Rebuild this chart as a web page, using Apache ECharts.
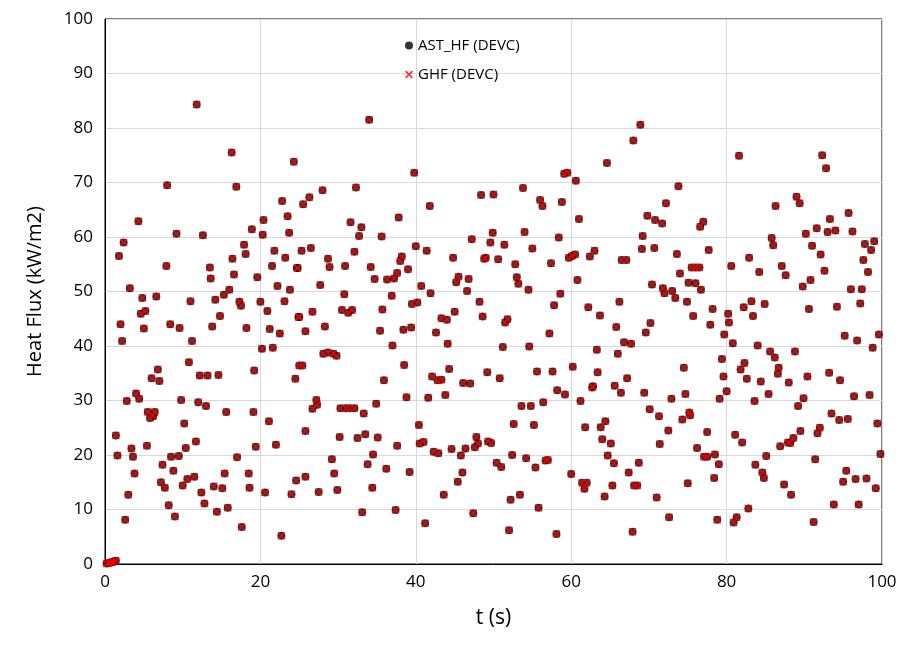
<!DOCTYPE html>
<html>
<head>
<meta charset="utf-8">
<script src="https://cdn.jsdelivr.net/npm/echarts@6/dist/echarts.min.js"></script>
<style>html,body{margin:0;padding:0;background:#fff}#main{width:910px;height:658px}</style>
</head>
<body>
<div id="main"></div>
<script>
// 坐标轴刻度
var xTicks = [0, 20, 40, 60, 80, 100];
var yTicks = [0, 10, 20, 30, 40, 50, 60, 70, 80, 90, 100];

// 图上读出的点 [t, heat flux]
var pointsA = [
    [0.2,0.1],[0.5,0.2],[0.8,0.3],[1.1,0.4],[1.4,0.6],
    [11.8,84.3],[16.3,75.5],[24.3,73.8],[8.0,69.5],[16.9,69.2],[22.8,66.6],[4.3,62.9],[23.5,63.8],[20.4,63.1],[18.9,61.4],
    [9.2,60.6],[12.6,60.3],[20.3,60.4],[23.7,60.8],[2.4,59.0],[17.9,58.6],[1.8,56.5],[21.8,57.5],[18.1,56.9],[16.4,56.0],
    [23.2,56.2],[7.9,54.7],[13.5,54.4],[21.5,54.7],[24.8,54.3],[13.6,52.4],[16.6,53.1],[19.6,52.6],[3.2,50.6],[22.2,51.0],
    [23.8,50.3],[4.8,48.8],[6.6,49.1],[16.0,50.3],[15.3,49.4],[11.0,48.2],[14.2,48.5],[17.3,48.1],[17.5,47.4],[20.0,48.1],
    [23.1,48.2],[5.2,46.4],[4.6,45.9],[20.9,46.4],[14.8,45.5],[25.0,45.3],[2.0,44.0],[5.0,43.2],[8.4,44.0],[9.6,43.3],
    [13.8,43.6],[18.2,43.3],[21.2,43.1],[22.5,42.3],[2.2,40.9],[11.2,40.9],[20.2,39.5],[21.6,39.7],[10.8,37.0],[6.8,35.7],
    [6.0,34.1],[7.0,33.6],[12.2,34.6],[13.2,34.6],[14.6,34.7],[19.2,35.5],[25.0,36.4],[24.5,34.0],[4.0,31.3],[2.8,29.9],
    [4.4,30.3],[9.8,30.1],[12.0,29.7],[13.0,29.0],[5.5,27.9],[6.4,27.9],[5.8,26.8],[6.2,27.1],[15.6,27.9],[19.1,27.9],
    [21.1,26.2],[10.2,25.8],[1.4,23.6],[5.4,21.7],[3.4,21.2],[11.7,22.5],[10.4,21.3],[19.4,21.5],[22.0,21.9],[1.6,19.9],
    [3.6,19.7],[8.5,19.7],[9.5,19.8],[17.0,19.6],[7.4,18.2],[8.8,17.1],[3.8,16.6],[15.4,16.6],[18.5,16.6],[24.6,15.3],
    [7.2,15.0],[7.7,14.0],[10.6,15.6],[11.5,16.0],[10.0,14.4],[14.0,14.2],[15.1,13.9],[18.6,14.0],[12.4,13.1],[20.6,13.1],
    [24.0,12.8],[3.0,12.7],[8.2,10.8],[12.8,11.1],[15.8,10.3],[14.4,9.6],[9.0,8.7],[2.6,8.1],[17.6,6.8],[22.7,5.2],
    [34.0,81.5],[39.8,71.8],[48.4,67.7],[50.0,67.8],[32.3,69.1],[28.0,68.6],[26.3,67.3],[25.5,66.0],[41.8,65.7],[37.8,63.6],
    [31.6,62.7],[33.0,61.8],[32.7,60.2],[35.6,60.1],[49.9,60.8],[47.2,59.6],[49.6,59.0],[25.3,57.5],[26.5,58.0],[40.0,58.3],
    [41.4,57.5],[32.1,57.3],[28.7,56.0],[38.2,56.4],[38.0,55.6],[44.8,56.2],[48.8,56.0],[49.0,56.2],[24.7,54.3],[28.9,54.5],
    [30.9,54.7],[34.2,54.5],[39.0,54.1],[34.7,52.3],[37.6,53.4],[36.3,52.2],[37.2,52.4],[45.2,51.7],[45.5,52.7],[46.8,52.3],
    [46.6,50.1],[27.7,51.2],[40.7,51.0],[30.8,49.5],[41.9,49.7],[36.9,49.2],[26.7,46.3],[30.5,46.6],[31.3,46.1],[31.8,46.6],
    [35.7,46.7],[39.5,47.7],[40.2,48.0],[48.2,48.1],[45.0,46.3],[48.6,45.4],[24.9,45.3],[43.3,45.1],[44.0,44.8],[25.8,42.7],
    [28.3,43.6],[35.4,42.8],[38.4,43.0],[39.4,43.4],[42.6,42.5],[37.0,40.1],[44.1,40.4],[28.1,38.6],[28.7,38.8],[29.4,38.6],
    [29.8,38.2],[25.4,36.4],[38.5,36.5],[44.3,35.8],[49.2,35.2],[35.9,33.7],[42.1,34.4],[42.8,33.7],[43.3,33.8],[46.1,33.2],
    [47.0,33.1],[38.8,30.6],[41.6,30.5],[43.8,31.0],[27.2,30.1],[26.7,28.5],[27.3,29.2],[30.3,28.6],[31.0,28.6],[31.5,28.6],
    [32.1,28.6],[33.3,27.6],[34.9,29.4],[25.8,24.4],[40.4,25.5],[30.2,23.3],[32.5,23.1],[33.5,23.8],[35.1,23.2],[37.6,21.7],
    [40.5,22.1],[41.0,22.4],[42.3,20.6],[42.9,20.3],[44.6,21.1],[45.8,19.9],[46.4,21.2],[47.6,21.4],[47.8,23.3],[48.0,22.1],
    [49.3,22.5],[49.7,22.2],[29.2,19.2],[33.8,18.3],[34.5,20.1],[29.5,16.6],[36.2,17.5],[39.2,16.9],[46.0,16.8],[45.4,15.1],
    [25.8,16.0],[27.5,13.2],[29.9,13.6],[34.4,14.0],[43.6,12.7],[33.1,9.5],[37.4,9.9],[47.4,9.3],[41.2,7.5],
    [68.9,80.6],[68.0,77.7],[64.6,73.6],[59.1,71.6],[59.5,71.8],[60.6,70.3],[53.8,69.0],[56.0,66.8],[56.3,65.7],[58.8,66.4],
    [73.8,69.3],[72.2,66.2],[61.0,63.3],[69.8,63.9],[70.8,63.1],[71.7,62.5],[54.0,60.9],[58.4,59.9],[69.2,60.2],[51.4,58.6],
    [55.0,57.9],[69.1,57.8],[70.7,58.0],[73.6,56.9],[50.6,55.9],[52.8,55.0],[57.4,55.2],[59.7,56.2],[60.1,56.5],[60.5,56.8],
    [62.4,56.4],[63.0,57.5],[66.5,55.8],[67.1,55.8],[53.0,52.6],[53.2,51.4],[54.5,50.3],[60.8,52.1],[74.0,53.3],[70.4,51.3],
    [71.8,50.6],[72.0,49.7],[73.0,50.1],[73.4,48.8],[74.9,48.1],[58.6,49.6],[57.8,47.5],[62.2,47.1],[63.7,45.6],[66.2,48.1],
    [51.5,44.3],[51.8,44.9],[57.2,42.3],[65.8,43.5],[69.6,42.5],[70.2,44.2],[51.2,39.8],[54.6,39.9],[63.3,39.3],[66.0,38.6],
    [66.8,40.7],[67.7,40.4],[60.2,36.2],[74.5,36.0],[50.8,34.1],[55.6,35.3],[57.6,35.3],[63.4,35.2],[67.2,34.1],[58.2,31.9],
    [59.2,31.1],[62.7,32.4],[62.8,32.6],[65.6,32.7],[66.4,31.4],[69.4,31.4],[74.7,31.2],[61.2,29.9],[72.9,30.3],[53.6,29.0],
    [54.8,29.0],[56.4,29.7],[70.1,28.4],[71.3,27.1],[75.2,27.8],[74.3,26.5],[52.6,25.7],[55.2,25.5],[61.8,25.1],[63.8,25.1],
    [64.4,26.2],[72.5,24.5],[64.0,22.9],[65.1,22.1],[71.4,22.0],[52.4,20.0],[50.4,18.6],[51.0,17.8],[54.2,19.4],[55.4,17.7],
    [56.7,19.0],[57.0,19.1],[64.7,19.9],[65.5,18.5],[68.7,18.6],[60.0,16.5],[67.4,16.8],[61.4,14.9],[62.0,14.9],[61.7,13.8],
    [65.3,14.4],[68.1,14.4],[68.5,14.4],[75.0,14.8],[52.2,11.8],[53.4,12.7],[64.3,12.4],[71.0,12.2],[55.8,10.3],[72.6,8.6],
    [52.0,6.2],[58.1,5.5],[67.9,5.9],
    [81.6,74.9],[92.3,75.0],[92.8,72.6],[89.0,67.4],[89.4,66.2],[86.3,65.7],[95.7,64.4],[93.3,63.3],[76.6,61.9],[77.0,62.8],
    [91.6,61.6],[90.2,60.6],[93.0,60.9],[94.0,61.2],[96.2,61.0],[85.8,59.8],[86.0,58.5],[91.0,58.4],[97.8,58.7],[99.0,59.2],
    [98.6,57.6],[77.7,57.6],[92.1,56.8],[82.9,56.2],[97.6,55.8],[80.6,54.7],[75.5,54.4],[76.0,54.4],[76.5,54.4],[84.2,53.6],
    [87.1,54.7],[87.6,53.0],[92.6,53.8],[98.2,53.6],[75.1,51.6],[76.0,51.5],[76.7,50.3],[89.8,50.9],[90.8,52.1],[96.0,50.4],
    [97.4,50.4],[78.2,46.8],[75.7,45.5],[77.9,43.9],[80.2,45.9],[80.3,44.3],[82.2,47.1],[83.2,48.2],[83.4,45.5],[84.9,47.7],
    [90.6,46.8],[94.2,47.2],[97.2,47.8],[79.7,42.1],[80.8,40.5],[84.0,40.1],[95.2,41.9],[96.8,41.0],[98.8,39.7],[99.6,42.1],
    [79.4,37.6],[82.3,36.9],[81.8,35.7],[82.6,34.0],[79.6,34.4],[85.6,39.0],[86.2,37.9],[86.7,36.0],[86.6,34.9],[88.8,39.0],
    [84.4,33.5],[85.4,31.2],[88.0,33.3],[90.4,34.4],[93.2,35.1],[94.6,33.7],[80.0,31.7],[79.1,30.3],[83.6,29.9],[89.2,29.0],
    [89.9,30.4],[96.4,30.8],[98.4,31.0],[75.3,27.3],[93.5,27.6],[94.5,26.4],[95.6,26.6],[99.4,25.8],[77.5,24.2],[81.1,23.7],
    [82.0,22.3],[89.5,24.4],[92.0,25.0],[91.7,24.0],[88.6,23.1],[87.9,22.3],[88.2,22.2],[86.9,21.6],[76.2,21.3],[77.1,19.7],
    [77.5,19.7],[78.5,20.1],[79.0,18.3],[85.1,19.8],[99.8,20.2],[83.7,18.2],[84.6,16.8],[84.8,15.8],[91.4,19.2],[95.4,17.1],
    [95.0,15.1],[96.6,15.6],[98.0,15.7],[99.2,13.9],[78.4,15.8],[87.4,14.6],[88.3,12.7],[93.8,10.9],[97.0,10.9],[82.8,10.2],
    [78.8,8.1],[80.9,7.6],[81.3,8.6],[91.2,7.7]
];
// GHF 与 AST_HF 重合
var pointsB = pointsA;

var crossPath = 'path://M0,1.5L1.5,0L5,3.5L8.5,0L10,1.5L6.5,5L10,8.5L8.5,10L5,6.5L1.5,10L0,8.5L3.5,5Z';
var fontName = 'Open Sans';

var option = {
    backgroundColor: '#fff',
    animation: false,
    grid: {left: 105, right: 28, top: 19, bottom: 94, show: true, borderColor: '#000', borderWidth: 1},
    legend: {
        orient: 'vertical',
        left: 400,
        top: 33,
        itemGap: 14,
        itemWidth: 8,
        itemHeight: 8,
        textStyle: {fontFamily: fontName, fontSize: 15, color: '#000'},
        data: [
            {name: 'AST_HF (DEVC)', icon: 'circle'},
            {name: 'GHF (DEVC)', icon: crossPath}
        ]
    },
    xAxis: {
        type: 'value', min: 0, max: 100, interval: 20,
        name: 't (s)', nameLocation: 'middle', nameGap: 44,
        nameTextStyle: {fontFamily: fontName, fontSize: 21, color: '#000'},
        axisLine: {lineStyle: {color: '#000'}},
        axisTick: {show: false},
        axisLabel: {fontFamily: fontName, fontSize: 17, color: '#000', margin: 10},
        splitLine: {lineStyle: {color: '#d9d9d9'}}
    },
    yAxis: {
        type: 'value', min: 0, max: 100, interval: 10,
        name: 'Heat Flux (kW/m2)', nameLocation: 'middle', nameGap: 60,
        nameTextStyle: {fontFamily: fontName, fontSize: 20, color: '#000'},
        axisLine: {show: true, lineStyle: {color: '#000'}},
        axisTick: {show: false},
        axisLabel: {fontFamily: fontName, fontSize: 17, color: '#000', margin: 12},
        splitLine: {lineStyle: {color: '#d9d9d9'}}
    },
    series: [
        {
            name: 'AST_HF (DEVC)', type: 'scatter', data: pointsA,
            symbol: 'circle', symbolSize: 8,
            itemStyle: {color: '#000'}
        },
        {
            name: 'GHF (DEVC)', type: 'scatter', data: pointsB,
            symbol: crossPath, symbolSize: 8,
            itemStyle: {color: '#ff0000'}
        }
    ]
};

var chart = echarts.init(document.getElementById('main'));
chart.setOption(option);
</script>
</body>
</html>
